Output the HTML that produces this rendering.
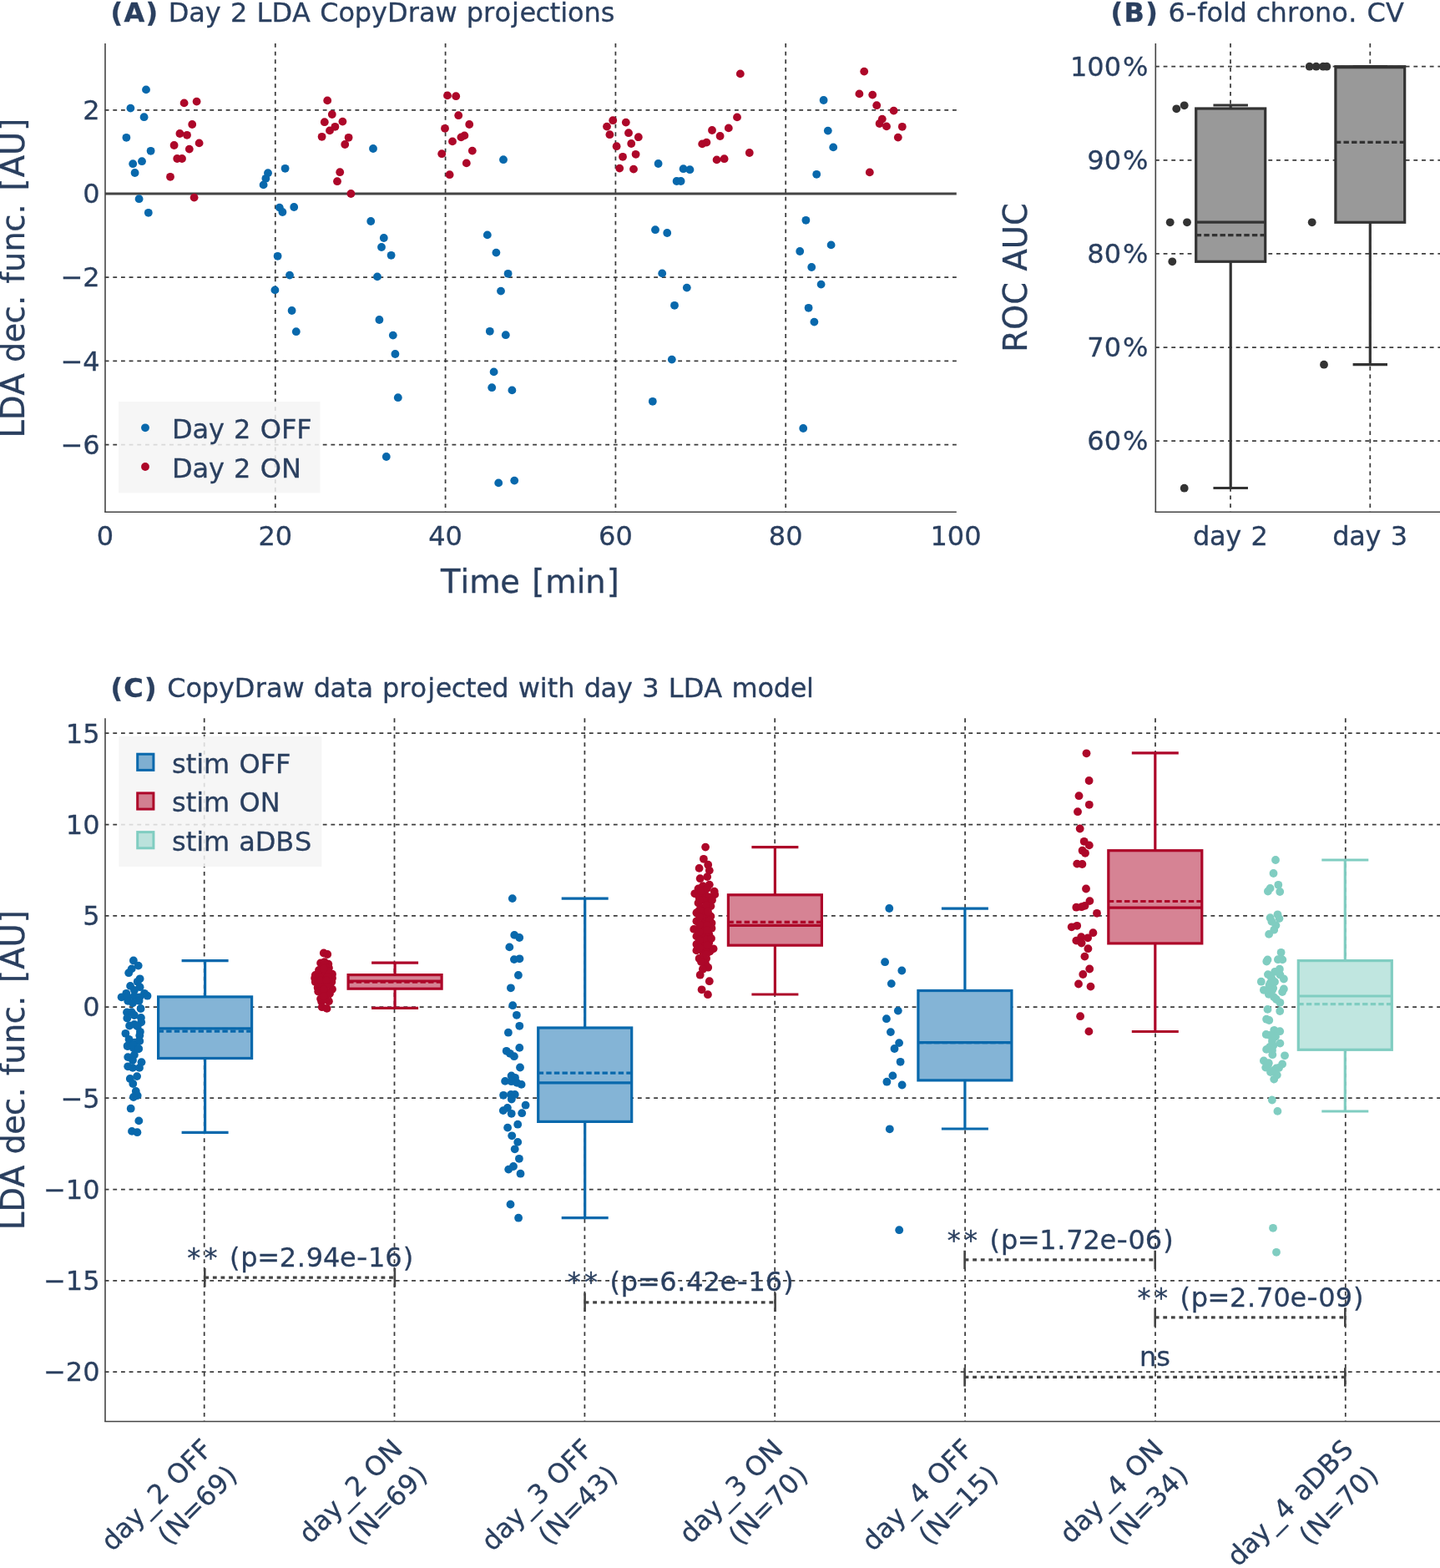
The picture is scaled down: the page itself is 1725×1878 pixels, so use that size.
<!DOCTYPE html>
<html lang="en"><head><meta charset="utf-8"><title>LDA CopyDraw figure</title>
<style>
html,body{margin:0;padding:0;background:#fff}
svg{display:block}
text{font-family:"DejaVu Sans", "Liberation Sans", sans-serif;fill:#2a3f5f;stroke:#2a3f5f;stroke-width:0.3px}
.g{stroke:#3c3c3c;stroke-width:1.75;stroke-dasharray:4.835,4.835;fill:none}
.ax{stroke:#444;stroke-width:1.6;fill:none}
</style></head>
<body>
<svg width="1725" height="1878" viewBox="0 0 1725 1878">
<rect width="100%" height="100%" fill="#fff"/>
<path class="g" d="M329.8,52V613.3"/>
<path class="g" d="M533.6,52V613.3"/>
<path class="g" d="M737.4,52V613.3"/>
<path class="g" d="M941.2,52V613.3"/>
<path class="g" d="M125.65,131.8H1145.8"/>
<path class="g" d="M125.65,332.2H1145.8"/>
<path class="g" d="M125.65,432.4H1145.8"/>
<path class="g" d="M125.65,532.6H1145.8"/>
<path d="M126,232.0H1145.8" stroke="#444" stroke-width="3.2" fill="none"/>
<circle cx="175" cy="107.4" r="4.9" fill="#0868ac"/>
<circle cx="156.4" cy="129.6" r="4.9" fill="#0868ac"/>
<circle cx="172.6" cy="140.2" r="4.9" fill="#0868ac"/>
<circle cx="151.4" cy="164.8" r="4.9" fill="#0868ac"/>
<circle cx="180.6" cy="180.8" r="4.9" fill="#0868ac"/>
<circle cx="170" cy="193.2" r="4.9" fill="#0868ac"/>
<circle cx="159.2" cy="196.2" r="4.9" fill="#0868ac"/>
<circle cx="161.6" cy="207" r="4.9" fill="#0868ac"/>
<circle cx="166.6" cy="238.2" r="4.9" fill="#0868ac"/>
<circle cx="177.8" cy="254.8" r="4.9" fill="#0868ac"/>
<circle cx="321" cy="207.2" r="4.9" fill="#0868ac"/>
<circle cx="318.4" cy="213.8" r="4.9" fill="#0868ac"/>
<circle cx="315.6" cy="221.4" r="4.9" fill="#0868ac"/>
<circle cx="341.6" cy="201.8" r="4.9" fill="#0868ac"/>
<circle cx="334.8" cy="248.6" r="4.9" fill="#0868ac"/>
<circle cx="338.4" cy="254" r="4.9" fill="#0868ac"/>
<circle cx="352.2" cy="248" r="4.9" fill="#0868ac"/>
<circle cx="332.6" cy="306.8" r="4.9" fill="#0868ac"/>
<circle cx="347" cy="329.6" r="4.9" fill="#0868ac"/>
<circle cx="329.4" cy="347.4" r="4.9" fill="#0868ac"/>
<circle cx="349.6" cy="372" r="4.9" fill="#0868ac"/>
<circle cx="354.8" cy="397.2" r="4.9" fill="#0868ac"/>
<circle cx="447" cy="178" r="4.9" fill="#0868ac"/>
<circle cx="444.2" cy="265" r="4.9" fill="#0868ac"/>
<circle cx="459.8" cy="285" r="4.9" fill="#0868ac"/>
<circle cx="457" cy="296" r="4.9" fill="#0868ac"/>
<circle cx="468.6" cy="305.8" r="4.9" fill="#0868ac"/>
<circle cx="452" cy="331.4" r="4.9" fill="#0868ac"/>
<circle cx="454.4" cy="383" r="4.9" fill="#0868ac"/>
<circle cx="470.8" cy="401.6" r="4.9" fill="#0868ac"/>
<circle cx="473.4" cy="424" r="4.9" fill="#0868ac"/>
<circle cx="476.8" cy="476.2" r="4.9" fill="#0868ac"/>
<circle cx="462.8" cy="547" r="4.9" fill="#0868ac"/>
<circle cx="603" cy="191.2" r="4.9" fill="#0868ac"/>
<circle cx="583.8" cy="281.4" r="4.9" fill="#0868ac"/>
<circle cx="594.4" cy="302.6" r="4.9" fill="#0868ac"/>
<circle cx="608.6" cy="327.8" r="4.9" fill="#0868ac"/>
<circle cx="600" cy="348.6" r="4.9" fill="#0868ac"/>
<circle cx="586.8" cy="396.8" r="4.9" fill="#0868ac"/>
<circle cx="605.8" cy="401.2" r="4.9" fill="#0868ac"/>
<circle cx="591.6" cy="445.4" r="4.9" fill="#0868ac"/>
<circle cx="589.2" cy="464.2" r="4.9" fill="#0868ac"/>
<circle cx="613.4" cy="467.4" r="4.9" fill="#0868ac"/>
<circle cx="597.2" cy="578.4" r="4.9" fill="#0868ac"/>
<circle cx="616.2" cy="575.6" r="4.9" fill="#0868ac"/>
<circle cx="788.6" cy="196" r="4.9" fill="#0868ac"/>
<circle cx="785" cy="275.2" r="4.9" fill="#0868ac"/>
<circle cx="799.2" cy="279" r="4.9" fill="#0868ac"/>
<circle cx="793.2" cy="327.4" r="4.9" fill="#0868ac"/>
<circle cx="822.8" cy="344.6" r="4.9" fill="#0868ac"/>
<circle cx="808" cy="365.8" r="4.9" fill="#0868ac"/>
<circle cx="804.8" cy="430.6" r="4.9" fill="#0868ac"/>
<circle cx="781.8" cy="480.8" r="4.9" fill="#0868ac"/>
<circle cx="818.6" cy="202.2" r="4.9" fill="#0868ac"/>
<circle cx="826.4" cy="203.2" r="4.9" fill="#0868ac"/>
<circle cx="810.6" cy="217" r="4.9" fill="#0868ac"/>
<circle cx="815.6" cy="217" r="4.9" fill="#0868ac"/>
<circle cx="986.6" cy="120" r="4.9" fill="#0868ac"/>
<circle cx="991.8" cy="156.6" r="4.9" fill="#0868ac"/>
<circle cx="998.2" cy="176.4" r="4.9" fill="#0868ac"/>
<circle cx="978.2" cy="208.8" r="4.9" fill="#0868ac"/>
<circle cx="965.4" cy="263.8" r="4.9" fill="#0868ac"/>
<circle cx="995.6" cy="293.4" r="4.9" fill="#0868ac"/>
<circle cx="958.2" cy="301" r="4.9" fill="#0868ac"/>
<circle cx="972.2" cy="320" r="4.9" fill="#0868ac"/>
<circle cx="983.6" cy="340.6" r="4.9" fill="#0868ac"/>
<circle cx="968.6" cy="368.8" r="4.9" fill="#0868ac"/>
<circle cx="975.4" cy="385.6" r="4.9" fill="#0868ac"/>
<circle cx="962.2" cy="513" r="4.9" fill="#0868ac"/>
<circle cx="220.6" cy="123.4" r="4.9" fill="#ad0729"/>
<circle cx="235.6" cy="121.6" r="4.9" fill="#ad0729"/>
<circle cx="230.2" cy="149" r="4.9" fill="#ad0729"/>
<circle cx="215.4" cy="160" r="4.9" fill="#ad0729"/>
<circle cx="224" cy="161.8" r="4.9" fill="#ad0729"/>
<circle cx="238.6" cy="171.4" r="4.9" fill="#ad0729"/>
<circle cx="208.6" cy="174" r="4.9" fill="#ad0729"/>
<circle cx="226.8" cy="178.6" r="4.9" fill="#ad0729"/>
<circle cx="212.2" cy="190" r="4.9" fill="#ad0729"/>
<circle cx="218" cy="190" r="4.9" fill="#ad0729"/>
<circle cx="204" cy="211.8" r="4.9" fill="#ad0729"/>
<circle cx="232.6" cy="236.6" r="4.9" fill="#ad0729"/>
<circle cx="392.2" cy="120.4" r="4.9" fill="#ad0729"/>
<circle cx="397.8" cy="137" r="4.9" fill="#ad0729"/>
<circle cx="388.8" cy="146.2" r="4.9" fill="#ad0729"/>
<circle cx="410.4" cy="145.6" r="4.9" fill="#ad0729"/>
<circle cx="401.4" cy="151.8" r="4.9" fill="#ad0729"/>
<circle cx="395" cy="156.4" r="4.9" fill="#ad0729"/>
<circle cx="385.6" cy="163.8" r="4.9" fill="#ad0729"/>
<circle cx="417.6" cy="164.8" r="4.9" fill="#ad0729"/>
<circle cx="413.2" cy="173" r="4.9" fill="#ad0729"/>
<circle cx="407.2" cy="206.2" r="4.9" fill="#ad0729"/>
<circle cx="404" cy="217.2" r="4.9" fill="#ad0729"/>
<circle cx="420.4" cy="232" r="4.9" fill="#ad0729"/>
<circle cx="536" cy="114.4" r="4.9" fill="#ad0729"/>
<circle cx="546.2" cy="115.2" r="4.9" fill="#ad0729"/>
<circle cx="549.2" cy="138.2" r="4.9" fill="#ad0729"/>
<circle cx="562.2" cy="149" r="4.9" fill="#ad0729"/>
<circle cx="533" cy="153.8" r="4.9" fill="#ad0729"/>
<circle cx="556.4" cy="162.4" r="4.9" fill="#ad0729"/>
<circle cx="552.4" cy="164.4" r="4.9" fill="#ad0729"/>
<circle cx="542" cy="169.4" r="4.9" fill="#ad0729"/>
<circle cx="565.8" cy="180.6" r="4.9" fill="#ad0729"/>
<circle cx="529.2" cy="184.2" r="4.9" fill="#ad0729"/>
<circle cx="558.8" cy="195.4" r="4.9" fill="#ad0729"/>
<circle cx="538.6" cy="209.2" r="4.9" fill="#ad0729"/>
<circle cx="734.2" cy="144.2" r="4.9" fill="#ad0729"/>
<circle cx="727" cy="151.6" r="4.9" fill="#ad0729"/>
<circle cx="749.8" cy="146.6" r="4.9" fill="#ad0729"/>
<circle cx="730.4" cy="161.2" r="4.9" fill="#ad0729"/>
<circle cx="753" cy="159.2" r="4.9" fill="#ad0729"/>
<circle cx="764.8" cy="164.2" r="4.9" fill="#ad0729"/>
<circle cx="756.2" cy="172" r="4.9" fill="#ad0729"/>
<circle cx="738.6" cy="175.2" r="4.9" fill="#ad0729"/>
<circle cx="761.6" cy="184.8" r="4.9" fill="#ad0729"/>
<circle cx="746" cy="187.8" r="4.9" fill="#ad0729"/>
<circle cx="742.2" cy="201.6" r="4.9" fill="#ad0729"/>
<circle cx="759" cy="202.6" r="4.9" fill="#ad0729"/>
<circle cx="886.8" cy="88.4" r="4.9" fill="#ad0729"/>
<circle cx="883" cy="140.4" r="4.9" fill="#ad0729"/>
<circle cx="872.8" cy="153.4" r="4.9" fill="#ad0729"/>
<circle cx="853" cy="156" r="4.9" fill="#ad0729"/>
<circle cx="862.6" cy="163" r="4.9" fill="#ad0729"/>
<circle cx="846.4" cy="170.6" r="4.9" fill="#ad0729"/>
<circle cx="841.2" cy="172.4" r="4.9" fill="#ad0729"/>
<circle cx="897.8" cy="183" r="4.9" fill="#ad0729"/>
<circle cx="867.6" cy="190.2" r="4.9" fill="#ad0729"/>
<circle cx="858.6" cy="191.4" r="4.9" fill="#ad0729"/>
<circle cx="1035.2" cy="85.6" r="4.9" fill="#ad0729"/>
<circle cx="1029.4" cy="112.4" r="4.9" fill="#ad0729"/>
<circle cx="1045.2" cy="113.6" r="4.9" fill="#ad0729"/>
<circle cx="1050.2" cy="126.2" r="4.9" fill="#ad0729"/>
<circle cx="1070.6" cy="132.6" r="4.9" fill="#ad0729"/>
<circle cx="1056.8" cy="142.6" r="4.9" fill="#ad0729"/>
<circle cx="1053.6" cy="148" r="4.9" fill="#ad0729"/>
<circle cx="1062" cy="151.4" r="4.9" fill="#ad0729"/>
<circle cx="1080.8" cy="151.8" r="4.9" fill="#ad0729"/>
<circle cx="1075.8" cy="164.6" r="4.9" fill="#ad0729"/>
<circle cx="1041.8" cy="206.4" r="4.9" fill="#ad0729"/>
<path class="ax" d="M126,52V613.3"/>
<path class="ax" d="M125.2,613.3H1145.8"/>
<text y="143.0" font-size="32"><tspan x="99.15">2</tspan></text>
<text y="243.2" font-size="32"><tspan x="99.15">0</tspan></text>
<text y="343.4" font-size="32"><tspan x="72.65 99.15">−2</tspan></text>
<text y="443.6" font-size="32"><tspan x="72.65 99.15">−4</tspan></text>
<text y="543.8" font-size="32"><tspan x="72.65 99.15">−6</tspan></text>
<text y="653.4" font-size="32"><tspan x="115.82">0</tspan></text>
<text y="653.4" font-size="32"><tspan x="309.45 329.80">20</tspan></text>
<text y="653.4" font-size="32"><tspan x="513.25 533.60">40</tspan></text>
<text y="653.4" font-size="32"><tspan x="717.05 737.40">60</tspan></text>
<text y="653.4" font-size="32"><tspan x="920.85 941.20">80</tspan></text>
<text y="653.4" font-size="32"><tspan x="1114.47 1134.82 1155.18">100</tspan></text>
<text y="709.6" font-size="38.4"><tspan x="528.10 551.58 562.16 599.17 623.08 637.17 653.36 690.66 701.24 726.80">Time [min]</tspan></text>
<text transform="translate(29,332.5) rotate(-90)" y="0" font-size="38.4"><tspan x="-191.98 -170.57 -140.99 -114.07 -101.43 -77.64 -54.95 -33.50 -19.76 -6.89 6.60 30.91 54.68 76.13 89.88 103.97 120.17 146.44 175.78">LDA dec. func. [AU]</tspan></text>
<text y="25.8" font-size="32"><tspan font-weight="bold" x="132.38 148.41 174.58">(A)</tspan><tspan x="191.13 201.86 226.33 245.75 265.24 275.96 296.86 307.58 325.42 350.07 372.50 383.22 405.48 424.79 444.92 463.88 488.79 502.01 521.43 548.15 558.68 579.06 592.39 612.95 622.60 641.51 658.68 671.19 679.94 699.43 719.70"> Day 2 LDA CopyDraw projections</tspan></text>
<rect x="142" y="481" width="241.5" height="109.3" fill="#f4f4f4" fill-opacity="0.85"/>
<circle cx="174" cy="512.3" r="4.9" fill="#0868ac"/><circle cx="174" cy="559" r="4.9" fill="#ad0729"/>
<text y="525" font-size="32"><tspan x="206.02 230.48 249.90 269.39 280.11 301.01 311.73 336.91 355.31">Day 2 OFF</tspan></text>
<text y="571.8" font-size="32"><tspan x="206.02 230.48 249.90 269.39 280.11 301.01 311.73 336.91">Day 2 ON</tspan></text>
<path class="g" d="M1474,52V613.3"/>
<path class="g" d="M1641.3,52V613.3"/>
<path class="g" d="M1383.95,79.7H1725"/>
<path class="g" d="M1383.95,191.8H1725"/>
<path class="g" d="M1383.95,303.9H1725"/>
<path class="g" d="M1383.95,416.0H1725"/>
<path class="g" d="M1383.95,528.1H1725"/>
<g stroke="#333" stroke-width="3.2" fill="none">
<path d="M1474.2,130V126M1474.2,313.3V584.5M1453.45,126H1494.95M1453.45,584.5H1494.95"/>
<rect x="1432.7" y="130" width="83.0" height="183.3" fill="#999999"/>
<path d="M1432.7,266.2H1515.7"/>
<path d="M1432.7,281.7H1515.7" stroke-dasharray="6.4,3.2"/>
</g>
<g stroke="#333" stroke-width="3.2" fill="none">
<path d="M1641.3,79.7V79.7M1641.3,266.3V436.7M1620.6,79.7H1662.0M1620.6,436.7H1662.0"/>
<rect x="1599.8999999999999" y="79.7" width="82.8" height="186.60000000000002" fill="#999999"/>
<path d="M1599.8999999999999,80.7H1682.7"/>
<path d="M1599.8999999999999,170.3H1682.7" stroke-dasharray="6.4,3.2"/>
</g>
<circle cx="1409.3" cy="130.3" r="4.9" fill="#333"/>
<circle cx="1418.7" cy="126.3" r="4.9" fill="#333"/>
<circle cx="1401.7" cy="266.3" r="4.9" fill="#333"/>
<circle cx="1422" cy="266.3" r="4.9" fill="#333"/>
<circle cx="1404.3" cy="313.3" r="4.9" fill="#333"/>
<circle cx="1418.7" cy="584.7" r="4.9" fill="#333"/>
<circle cx="1568.7" cy="79.7" r="4.9" fill="#333"/>
<circle cx="1576.7" cy="79.7" r="4.9" fill="#333"/>
<circle cx="1585" cy="79.7" r="4.9" fill="#333"/>
<circle cx="1589.3" cy="79.7" r="4.9" fill="#333"/>
<circle cx="1571.7" cy="266.3" r="4.9" fill="#333"/>
<circle cx="1586" cy="436.7" r="4.9" fill="#333"/>
<path class="ax" d="M1384.3,52V613.3"/>
<path class="ax" d="M1383.5,613.3H1725"/>
<text y="90.9" font-size="32"><tspan x="1282.01 1302.36 1322.72 1345.08">100%</tspan></text>
<text y="203.0" font-size="32"><tspan x="1302.36 1322.72 1345.08">90%</tspan></text>
<text y="315.1" font-size="32"><tspan x="1302.36 1322.72 1345.08">80%</tspan></text>
<text y="427.2" font-size="32"><tspan x="1302.36 1322.72 1345.08">70%</tspan></text>
<text y="539.3" font-size="32"><tspan x="1302.36 1322.72 1345.08">60%</tspan></text>
<text y="653.4" font-size="32"><tspan x="1428.94 1448.88 1468.30 1487.79 1498.51">day 2</tspan></text>
<text y="653.4" font-size="32"><tspan x="1596.24 1616.18 1635.60 1655.09 1665.81">day 3</tspan></text>
<text transform="translate(1230,332.5) rotate(-90)" y="0" font-size="38.4"><tspan x="-89.20 -62.52 -32.29 -4.84 8.03 34.29 62.40">ROC AUC</tspan></text>
<text y="25.8" font-size="32"><tspan font-weight="bold" x="1330.38 1346.38 1372.14">(B)</tspan><tspan x="1388.68 1399.40"> 6</tspan><tspan x="1420.33" textLength="13.37" lengthAdjust="spacingAndGlyphs">-</tspan><tspan x="1434.28 1445.46 1464.90 1473.54 1494.22 1504.47 1521.59 1542.12 1555.45 1574.94 1595.13 1615.37 1626.82 1637.54 1659.88">fold chrono. CV</tspan></text>
<path class="g" d="M244.7,860.3V1702.5"/>
<path class="g" d="M472.5,860.3V1702.5"/>
<path class="g" d="M700.4,860.3V1702.5"/>
<path class="g" d="M928.2,860.3V1702.5"/>
<path class="g" d="M1156.1,860.3V1702.5"/>
<path class="g" d="M1384.0,860.3V1702.5"/>
<path class="g" d="M1611.8,860.3V1702.5"/>
<path class="g" d="M125.65,878.2H1725"/>
<path class="g" d="M125.65,987.5H1725"/>
<path class="g" d="M125.65,1096.8H1725"/>
<path class="g" d="M125.65,1206.0H1725"/>
<path class="g" d="M125.65,1315.2H1725"/>
<path class="g" d="M125.65,1424.5H1725"/>
<path class="g" d="M125.65,1533.8H1725"/>
<path class="g" d="M125.65,1643.0H1725"/>
<circle cx="159.9" cy="1150.5" r="4.9" fill="#0868ac"/>
<circle cx="165.7" cy="1156.6" r="4.9" fill="#0868ac"/>
<circle cx="157.7" cy="1160.4" r="4.9" fill="#0868ac"/>
<circle cx="154.2" cy="1165.2" r="4.9" fill="#0868ac"/>
<circle cx="167.6" cy="1172.3" r="4.9" fill="#0868ac"/>
<circle cx="164.7" cy="1175.8" r="4.9" fill="#0868ac"/>
<circle cx="156.1" cy="1180.9" r="4.9" fill="#0868ac"/>
<circle cx="167.6" cy="1182.2" r="4.9" fill="#0868ac"/>
<circle cx="160.9" cy="1186" r="4.9" fill="#0868ac"/>
<circle cx="151.3" cy="1189.8" r="4.9" fill="#0868ac"/>
<circle cx="173" cy="1189.8" r="4.9" fill="#0868ac"/>
<circle cx="145.6" cy="1194.3" r="4.9" fill="#0868ac"/>
<circle cx="176.5" cy="1192.7" r="4.9" fill="#0868ac"/>
<circle cx="153.2" cy="1194.3" r="4.9" fill="#0868ac"/>
<circle cx="160.9" cy="1193" r="4.9" fill="#0868ac"/>
<circle cx="167.3" cy="1194.3" r="4.9" fill="#0868ac"/>
<circle cx="153.2" cy="1198.8" r="4.9" fill="#0868ac"/>
<circle cx="159" cy="1201.3" r="4.9" fill="#0868ac"/>
<circle cx="166.6" cy="1198.8" r="4.9" fill="#0868ac"/>
<circle cx="168.6" cy="1208" r="4.9" fill="#0868ac"/>
<circle cx="152" cy="1212.5" r="4.9" fill="#0868ac"/>
<circle cx="157.7" cy="1212.2" r="4.9" fill="#0868ac"/>
<circle cx="160.9" cy="1216" r="4.9" fill="#0868ac"/>
<circle cx="152.3" cy="1219.5" r="4.9" fill="#0868ac"/>
<circle cx="168.9" cy="1218.9" r="4.9" fill="#0868ac"/>
<circle cx="169.2" cy="1224.3" r="4.9" fill="#0868ac"/>
<circle cx="155.1" cy="1228.5" r="4.9" fill="#0868ac"/>
<circle cx="160.9" cy="1226.9" r="4.9" fill="#0868ac"/>
<circle cx="164.7" cy="1229.4" r="4.9" fill="#0868ac"/>
<circle cx="150.4" cy="1237.8" r="4.9" fill="#0868ac"/>
<circle cx="167.9" cy="1235.8" r="4.9" fill="#0868ac"/>
<circle cx="167.3" cy="1240.3" r="4.9" fill="#0868ac"/>
<circle cx="154.5" cy="1244.8" r="4.9" fill="#0868ac"/>
<circle cx="166.6" cy="1246.7" r="4.9" fill="#0868ac"/>
<circle cx="160.9" cy="1248.6" r="4.9" fill="#0868ac"/>
<circle cx="152.9" cy="1253.1" r="4.9" fill="#0868ac"/>
<circle cx="159.6" cy="1255" r="4.9" fill="#0868ac"/>
<circle cx="166" cy="1256.3" r="4.9" fill="#0868ac"/>
<circle cx="167.3" cy="1246.9" r="4.9" fill="#0868ac"/>
<circle cx="152.6" cy="1252.7" r="4.9" fill="#0868ac"/>
<circle cx="159.6" cy="1251.4" r="4.9" fill="#0868ac"/>
<circle cx="166" cy="1255.9" r="4.9" fill="#0868ac"/>
<circle cx="160.9" cy="1263.5" r="4.9" fill="#0868ac"/>
<circle cx="153.2" cy="1266.1" r="4.9" fill="#0868ac"/>
<circle cx="159" cy="1269.9" r="4.9" fill="#0868ac"/>
<circle cx="169.5" cy="1272.2" r="4.9" fill="#0868ac"/>
<circle cx="153.2" cy="1277.3" r="4.9" fill="#0868ac"/>
<circle cx="159" cy="1278.9" r="4.9" fill="#0868ac"/>
<circle cx="167" cy="1278.9" r="4.9" fill="#0868ac"/>
<circle cx="164.1" cy="1289.1" r="4.9" fill="#0868ac"/>
<circle cx="155.8" cy="1292" r="4.9" fill="#0868ac"/>
<circle cx="159.3" cy="1298" r="4.9" fill="#0868ac"/>
<circle cx="162.8" cy="1307" r="4.9" fill="#0868ac"/>
<circle cx="164.7" cy="1312.1" r="4.9" fill="#0868ac"/>
<circle cx="159.9" cy="1314" r="4.9" fill="#0868ac"/>
<circle cx="156.7" cy="1327.7" r="4.9" fill="#0868ac"/>
<circle cx="166.3" cy="1342.4" r="4.9" fill="#0868ac"/>
<circle cx="158" cy="1354.9" r="4.9" fill="#0868ac"/>
<circle cx="164.4" cy="1356.2" r="4.9" fill="#0868ac"/>
<circle cx="613.8" cy="1076.1" r="4.9" fill="#0868ac"/>
<circle cx="616.2" cy="1119.9" r="4.9" fill="#0868ac"/>
<circle cx="622.2" cy="1123" r="4.9" fill="#0868ac"/>
<circle cx="610.3" cy="1134.4" r="4.9" fill="#0868ac"/>
<circle cx="615.9" cy="1149.1" r="4.9" fill="#0868ac"/>
<circle cx="622.4" cy="1148.3" r="4.9" fill="#0868ac"/>
<circle cx="620.9" cy="1168" r="4.9" fill="#0868ac"/>
<circle cx="611.9" cy="1183.3" r="4.9" fill="#0868ac"/>
<circle cx="614.2" cy="1204.2" r="4.9" fill="#0868ac"/>
<circle cx="618.9" cy="1215.8" r="4.9" fill="#0868ac"/>
<circle cx="622.3" cy="1228.8" r="4.9" fill="#0868ac"/>
<circle cx="608.9" cy="1236.7" r="4.9" fill="#0868ac"/>
<circle cx="622.3" cy="1254.9" r="4.9" fill="#0868ac"/>
<circle cx="606.7" cy="1258.8" r="4.9" fill="#0868ac"/>
<circle cx="610.9" cy="1261.8" r="4.9" fill="#0868ac"/>
<circle cx="615.9" cy="1265.2" r="4.9" fill="#0868ac"/>
<circle cx="623" cy="1278.5" r="4.9" fill="#0868ac"/>
<circle cx="612.6" cy="1288.5" r="4.9" fill="#0868ac"/>
<circle cx="617" cy="1290.8" r="4.9" fill="#0868ac"/>
<circle cx="605.1" cy="1294.9" r="4.9" fill="#0868ac"/>
<circle cx="612.6" cy="1295.2" r="4.9" fill="#0868ac"/>
<circle cx="619.3" cy="1296.9" r="4.9" fill="#0868ac"/>
<circle cx="624.6" cy="1298.9" r="4.9" fill="#0868ac"/>
<circle cx="603.1" cy="1311.8" r="4.9" fill="#0868ac"/>
<circle cx="612" cy="1310.9" r="4.9" fill="#0868ac"/>
<circle cx="616.8" cy="1310.9" r="4.9" fill="#0868ac"/>
<circle cx="612.8" cy="1316.5" r="4.9" fill="#0868ac"/>
<circle cx="629.6" cy="1323.7" r="4.9" fill="#0868ac"/>
<circle cx="607.9" cy="1326.9" r="4.9" fill="#0868ac"/>
<circle cx="602.8" cy="1330.1" r="4.9" fill="#0868ac"/>
<circle cx="612.7" cy="1333.8" r="4.9" fill="#0868ac"/>
<circle cx="625.2" cy="1333.2" r="4.9" fill="#0868ac"/>
<circle cx="620.2" cy="1346.7" r="4.9" fill="#0868ac"/>
<circle cx="608.1" cy="1350.6" r="4.9" fill="#0868ac"/>
<circle cx="613.2" cy="1360.3" r="4.9" fill="#0868ac"/>
<circle cx="620.2" cy="1367.9" r="4.9" fill="#0868ac"/>
<circle cx="616.7" cy="1376.3" r="4.9" fill="#0868ac"/>
<circle cx="621.9" cy="1387.8" r="4.9" fill="#0868ac"/>
<circle cx="615" cy="1397" r="4.9" fill="#0868ac"/>
<circle cx="609.2" cy="1400.6" r="4.9" fill="#0868ac"/>
<circle cx="623.5" cy="1405.7" r="4.9" fill="#0868ac"/>
<circle cx="611.5" cy="1442.5" r="4.9" fill="#0868ac"/>
<circle cx="621.1" cy="1458.7" r="4.9" fill="#0868ac"/>
<circle cx="1065.3" cy="1088" r="4.9" fill="#0868ac"/>
<circle cx="1060.1" cy="1152.2" r="4.9" fill="#0868ac"/>
<circle cx="1080.3" cy="1162.5" r="4.9" fill="#0868ac"/>
<circle cx="1067.8" cy="1178.1" r="4.9" fill="#0868ac"/>
<circle cx="1075.8" cy="1210.6" r="4.9" fill="#0868ac"/>
<circle cx="1061.9" cy="1220.2" r="4.9" fill="#0868ac"/>
<circle cx="1066.9" cy="1236.1" r="4.9" fill="#0868ac"/>
<circle cx="1077.1" cy="1249.1" r="4.9" fill="#0868ac"/>
<circle cx="1071.5" cy="1256" r="4.9" fill="#0868ac"/>
<circle cx="1078.6" cy="1271.8" r="4.9" fill="#0868ac"/>
<circle cx="1069.4" cy="1288.4" r="4.9" fill="#0868ac"/>
<circle cx="1062.4" cy="1295.7" r="4.9" fill="#0868ac"/>
<circle cx="1080.6" cy="1299.5" r="4.9" fill="#0868ac"/>
<circle cx="1065.8" cy="1352.3" r="4.9" fill="#0868ac"/>
<circle cx="1077.2" cy="1473.2" r="4.9" fill="#0868ac"/>
<circle cx="387.8" cy="1141.5" r="4.9" fill="#ad0729"/>
<circle cx="392.2" cy="1143" r="4.9" fill="#ad0729"/>
<circle cx="384.1" cy="1153.4" r="4.9" fill="#ad0729"/>
<circle cx="393.3" cy="1154.6" r="4.9" fill="#ad0729"/>
<circle cx="388.7" cy="1152.2" r="4.9" fill="#ad0729"/>
<circle cx="386.4" cy="1158.6" r="4.9" fill="#ad0729"/>
<circle cx="393.9" cy="1159.2" r="4.9" fill="#ad0729"/>
<circle cx="377.7" cy="1167.9" r="4.9" fill="#ad0729"/>
<circle cx="398" cy="1166.7" r="4.9" fill="#ad0729"/>
<circle cx="387.5" cy="1165.6" r="4.9" fill="#ad0729"/>
<circle cx="377.1" cy="1171.4" r="4.9" fill="#ad0729"/>
<circle cx="398" cy="1171.4" r="4.9" fill="#ad0729"/>
<circle cx="377.7" cy="1176" r="4.9" fill="#ad0729"/>
<circle cx="397.4" cy="1176" r="4.9" fill="#ad0729"/>
<circle cx="387.5" cy="1174.3" r="4.9" fill="#ad0729"/>
<circle cx="380.6" cy="1183" r="4.9" fill="#ad0729"/>
<circle cx="398" cy="1184.7" r="4.9" fill="#ad0729"/>
<circle cx="389.3" cy="1181.8" r="4.9" fill="#ad0729"/>
<circle cx="381.2" cy="1187.6" r="4.9" fill="#ad0729"/>
<circle cx="392.2" cy="1188.8" r="4.9" fill="#ad0729"/>
<circle cx="384.1" cy="1196.3" r="4.9" fill="#ad0729"/>
<circle cx="392.2" cy="1194.6" r="4.9" fill="#ad0729"/>
<circle cx="393.9" cy="1199.2" r="4.9" fill="#ad0729"/>
<circle cx="385.2" cy="1199.8" r="4.9" fill="#ad0729"/>
<circle cx="385.8" cy="1206.2" r="4.9" fill="#ad0729"/>
<circle cx="391.6" cy="1207.9" r="4.9" fill="#ad0729"/>
<circle cx="382" cy="1162" r="4.9" fill="#ad0729"/>
<circle cx="393" cy="1163" r="4.9" fill="#ad0729"/>
<circle cx="382.5" cy="1170" r="4.9" fill="#ad0729"/>
<circle cx="392.5" cy="1170" r="4.9" fill="#ad0729"/>
<circle cx="383" cy="1178" r="4.9" fill="#ad0729"/>
<circle cx="393" cy="1179" r="4.9" fill="#ad0729"/>
<circle cx="386" cy="1189" r="4.9" fill="#ad0729"/>
<circle cx="395" cy="1190" r="4.9" fill="#ad0729"/>
<circle cx="388" cy="1160" r="4.9" fill="#ad0729"/>
<circle cx="388" cy="1185" r="4.9" fill="#ad0729"/>
<circle cx="388" cy="1193" r="4.9" fill="#ad0729"/>
<circle cx="384" cy="1174" r="4.9" fill="#ad0729"/>
<circle cx="391" cy="1174" r="4.9" fill="#ad0729"/>
<circle cx="845.1" cy="1014.6" r="4.9" fill="#ad0729"/>
<circle cx="842.9" cy="1028.8" r="4.9" fill="#ad0729"/>
<circle cx="848.2" cy="1035.7" r="4.9" fill="#ad0729"/>
<circle cx="837.6" cy="1039.9" r="4.9" fill="#ad0729"/>
<circle cx="849.8" cy="1042.6" r="4.9" fill="#ad0729"/>
<circle cx="847.2" cy="1050.1" r="4.9" fill="#ad0729"/>
<circle cx="838.7" cy="1052.2" r="4.9" fill="#ad0729"/>
<circle cx="849.8" cy="1059.6" r="4.9" fill="#ad0729"/>
<circle cx="841.9" cy="1061.2" r="4.9" fill="#ad0729"/>
<circle cx="836.5" cy="1064.4" r="4.9" fill="#ad0729"/>
<circle cx="855.7" cy="1067.6" r="4.9" fill="#ad0729"/>
<circle cx="832.3" cy="1070.3" r="4.9" fill="#ad0729"/>
<circle cx="844" cy="1070.3" r="4.9" fill="#ad0729"/>
<circle cx="856.2" cy="1071.4" r="4.9" fill="#ad0729"/>
<circle cx="849.3" cy="1074.5" r="4.9" fill="#ad0729"/>
<circle cx="837.6" cy="1074.5" r="4.9" fill="#ad0729"/>
<circle cx="836.5" cy="1081.5" r="4.9" fill="#ad0729"/>
<circle cx="848.2" cy="1080.9" r="4.9" fill="#ad0729"/>
<circle cx="851.4" cy="1085.2" r="4.9" fill="#ad0729"/>
<circle cx="841.9" cy="1087.3" r="4.9" fill="#ad0729"/>
<circle cx="834.4" cy="1093.2" r="4.9" fill="#ad0729"/>
<circle cx="841.9" cy="1094.8" r="4.9" fill="#ad0729"/>
<circle cx="851.4" cy="1097.4" r="4.9" fill="#ad0729"/>
<circle cx="834.4" cy="1103.3" r="4.9" fill="#ad0729"/>
<circle cx="844" cy="1103.3" r="4.9" fill="#ad0729"/>
<circle cx="852.5" cy="1105.4" r="4.9" fill="#ad0729"/>
<circle cx="831.2" cy="1112.9" r="4.9" fill="#ad0729"/>
<circle cx="839.7" cy="1110.8" r="4.9" fill="#ad0729"/>
<circle cx="852.5" cy="1111.8" r="4.9" fill="#ad0729"/>
<circle cx="849.3" cy="1119.3" r="4.9" fill="#ad0729"/>
<circle cx="834.4" cy="1121.4" r="4.9" fill="#ad0729"/>
<circle cx="841.9" cy="1122.5" r="4.9" fill="#ad0729"/>
<circle cx="849.3" cy="1128.9" r="4.9" fill="#ad0729"/>
<circle cx="834.4" cy="1131" r="4.9" fill="#ad0729"/>
<circle cx="841.9" cy="1131" r="4.9" fill="#ad0729"/>
<circle cx="854.6" cy="1136.3" r="4.9" fill="#ad0729"/>
<circle cx="834.4" cy="1138.4" r="4.9" fill="#ad0729"/>
<circle cx="841.9" cy="1139.5" r="4.9" fill="#ad0729"/>
<circle cx="850.4" cy="1139.5" r="4.9" fill="#ad0729"/>
<circle cx="837.6" cy="1148" r="4.9" fill="#ad0729"/>
<circle cx="846.1" cy="1148" r="4.9" fill="#ad0729"/>
<circle cx="845.1" cy="1154.4" r="4.9" fill="#ad0729"/>
<circle cx="848.2" cy="1158.7" r="4.9" fill="#ad0729"/>
<circle cx="841.9" cy="1160.8" r="4.9" fill="#ad0729"/>
<circle cx="838.7" cy="1167.7" r="4.9" fill="#ad0729"/>
<circle cx="849.8" cy="1175.2" r="4.9" fill="#ad0729"/>
<circle cx="840.6" cy="1185.3" r="4.9" fill="#ad0729"/>
<circle cx="847.9" cy="1191.2" r="4.9" fill="#ad0729"/>
<circle cx="843" cy="1078" r="4.9" fill="#ad0729"/>
<circle cx="845" cy="1090" r="4.9" fill="#ad0729"/>
<circle cx="846" cy="1098" r="4.9" fill="#ad0729"/>
<circle cx="843" cy="1115" r="4.9" fill="#ad0729"/>
<circle cx="846" cy="1125" r="4.9" fill="#ad0729"/>
<circle cx="846" cy="1135" r="4.9" fill="#ad0729"/>
<circle cx="843" cy="1143" r="4.9" fill="#ad0729"/>
<circle cx="840" cy="1067" r="4.9" fill="#ad0729"/>
<circle cx="847" cy="1064" r="4.9" fill="#ad0729"/>
<circle cx="838" cy="1078" r="4.9" fill="#ad0729"/>
<circle cx="853" cy="1078" r="4.9" fill="#ad0729"/>
<circle cx="846" cy="1084" r="4.9" fill="#ad0729"/>
<circle cx="838" cy="1090" r="4.9" fill="#ad0729"/>
<circle cx="848" cy="1092" r="4.9" fill="#ad0729"/>
<circle cx="838" cy="1098" r="4.9" fill="#ad0729"/>
<circle cx="850" cy="1102" r="4.9" fill="#ad0729"/>
<circle cx="838" cy="1107" r="4.9" fill="#ad0729"/>
<circle cx="847" cy="1108" r="4.9" fill="#ad0729"/>
<circle cx="838" cy="1116" r="4.9" fill="#ad0729"/>
<circle cx="847" cy="1114" r="4.9" fill="#ad0729"/>
<circle cx="852" cy="1124" r="4.9" fill="#ad0729"/>
<circle cx="838" cy="1126" r="4.9" fill="#ad0729"/>
<circle cx="847" cy="1132" r="4.9" fill="#ad0729"/>
<circle cx="838" cy="1135" r="4.9" fill="#ad0729"/>
<circle cx="846" cy="1143" r="4.9" fill="#ad0729"/>
<circle cx="840" cy="1152" r="4.9" fill="#ad0729"/>
<circle cx="1301.5" cy="902.3" r="4.9" fill="#ad0729"/>
<circle cx="1304.6" cy="935" r="4.9" fill="#ad0729"/>
<circle cx="1292.5" cy="953.2" r="4.9" fill="#ad0729"/>
<circle cx="1304.8" cy="963.8" r="4.9" fill="#ad0729"/>
<circle cx="1291" cy="972.2" r="4.9" fill="#ad0729"/>
<circle cx="1293.7" cy="992.5" r="4.9" fill="#ad0729"/>
<circle cx="1298.7" cy="1007.8" r="4.9" fill="#ad0729"/>
<circle cx="1304.8" cy="1012.4" r="4.9" fill="#ad0729"/>
<circle cx="1296.6" cy="1018.7" r="4.9" fill="#ad0729"/>
<circle cx="1300" cy="1021.8" r="4.9" fill="#ad0729"/>
<circle cx="1290.2" cy="1034.6" r="4.9" fill="#ad0729"/>
<circle cx="1296.4" cy="1035" r="4.9" fill="#ad0729"/>
<circle cx="1301" cy="1064.5" r="4.9" fill="#ad0729"/>
<circle cx="1305.4" cy="1079.1" r="4.9" fill="#ad0729"/>
<circle cx="1289.3" cy="1086.7" r="4.9" fill="#ad0729"/>
<circle cx="1295.6" cy="1086.2" r="4.9" fill="#ad0729"/>
<circle cx="1299.6" cy="1084.8" r="4.9" fill="#ad0729"/>
<circle cx="1314" cy="1093.8" r="4.9" fill="#ad0729"/>
<circle cx="1283.7" cy="1110.3" r="4.9" fill="#ad0729"/>
<circle cx="1290.2" cy="1108.8" r="4.9" fill="#ad0729"/>
<circle cx="1309.4" cy="1117.2" r="4.9" fill="#ad0729"/>
<circle cx="1295.2" cy="1122.2" r="4.9" fill="#ad0729"/>
<circle cx="1303.1" cy="1123.3" r="4.9" fill="#ad0729"/>
<circle cx="1289.3" cy="1126.6" r="4.9" fill="#ad0729"/>
<circle cx="1295.6" cy="1129.5" r="4.9" fill="#ad0729"/>
<circle cx="1303.4" cy="1136.2" r="4.9" fill="#ad0729"/>
<circle cx="1299.4" cy="1145.6" r="4.9" fill="#ad0729"/>
<circle cx="1305.2" cy="1160.5" r="4.9" fill="#ad0729"/>
<circle cx="1297.3" cy="1167" r="4.9" fill="#ad0729"/>
<circle cx="1292" cy="1178.5" r="4.9" fill="#ad0729"/>
<circle cx="1306.5" cy="1181.6" r="4.9" fill="#ad0729"/>
<circle cx="1294.1" cy="1217.2" r="4.9" fill="#ad0729"/>
<circle cx="1304.4" cy="1235.4" r="4.9" fill="#ad0729"/>
<circle cx="1528" cy="1030" r="4.9" fill="#80cdc1"/>
<circle cx="1525.5" cy="1046" r="4.9" fill="#80cdc1"/>
<circle cx="1531.3" cy="1059.8" r="4.9" fill="#80cdc1"/>
<circle cx="1521.6" cy="1063.9" r="4.9" fill="#80cdc1"/>
<circle cx="1518.9" cy="1067.5" r="4.9" fill="#80cdc1"/>
<circle cx="1533.2" cy="1068" r="4.9" fill="#80cdc1"/>
<circle cx="1530.5" cy="1095.3" r="4.9" fill="#80cdc1"/>
<circle cx="1521.6" cy="1099.2" r="4.9" fill="#80cdc1"/>
<circle cx="1532.5" cy="1100.1" r="4.9" fill="#80cdc1"/>
<circle cx="1523.4" cy="1103.7" r="4.9" fill="#80cdc1"/>
<circle cx="1528.4" cy="1108.2" r="4.9" fill="#80cdc1"/>
<circle cx="1526.2" cy="1113.7" r="4.9" fill="#80cdc1"/>
<circle cx="1520.1" cy="1118.9" r="4.9" fill="#80cdc1"/>
<circle cx="1534.6" cy="1140.8" r="4.9" fill="#80cdc1"/>
<circle cx="1518.5" cy="1149.4" r="4.9" fill="#80cdc1"/>
<circle cx="1517.3" cy="1151.5" r="4.9" fill="#80cdc1"/>
<circle cx="1530.9" cy="1149.2" r="4.9" fill="#80cdc1"/>
<circle cx="1536.3" cy="1149.4" r="4.9" fill="#80cdc1"/>
<circle cx="1532.9" cy="1160.7" r="4.9" fill="#80cdc1"/>
<circle cx="1527.1" cy="1163.9" r="4.9" fill="#80cdc1"/>
<circle cx="1518.9" cy="1167.1" r="4.9" fill="#80cdc1"/>
<circle cx="1533.4" cy="1167.5" r="4.9" fill="#80cdc1"/>
<circle cx="1537.9" cy="1172.5" r="4.9" fill="#80cdc1"/>
<circle cx="1523.4" cy="1172" r="4.9" fill="#80cdc1"/>
<circle cx="1510.8" cy="1175.7" r="4.9" fill="#80cdc1"/>
<circle cx="1521.6" cy="1177.5" r="4.9" fill="#80cdc1"/>
<circle cx="1513.9" cy="1185.8" r="4.9" fill="#80cdc1"/>
<circle cx="1525.2" cy="1183.6" r="4.9" fill="#80cdc1"/>
<circle cx="1537.9" cy="1184.5" r="4.9" fill="#80cdc1"/>
<circle cx="1536.1" cy="1188.1" r="4.9" fill="#80cdc1"/>
<circle cx="1519.8" cy="1190.8" r="4.9" fill="#80cdc1"/>
<circle cx="1526.2" cy="1194.4" r="4.9" fill="#80cdc1"/>
<circle cx="1533.4" cy="1200.8" r="4.9" fill="#80cdc1"/>
<circle cx="1518.5" cy="1208.9" r="4.9" fill="#80cdc1"/>
<circle cx="1533.2" cy="1211" r="4.9" fill="#80cdc1"/>
<circle cx="1517.1" cy="1220.7" r="4.9" fill="#80cdc1"/>
<circle cx="1520.3" cy="1222" r="4.9" fill="#80cdc1"/>
<circle cx="1526.2" cy="1233.8" r="4.9" fill="#80cdc1"/>
<circle cx="1533.2" cy="1235.2" r="4.9" fill="#80cdc1"/>
<circle cx="1516.7" cy="1239" r="4.9" fill="#80cdc1"/>
<circle cx="1528" cy="1241.5" r="4.9" fill="#80cdc1"/>
<circle cx="1533.4" cy="1249.6" r="4.9" fill="#80cdc1"/>
<circle cx="1525.2" cy="1252.4" r="4.9" fill="#80cdc1"/>
<circle cx="1517.1" cy="1256.9" r="4.9" fill="#80cdc1"/>
<circle cx="1524.3" cy="1263.2" r="4.9" fill="#80cdc1"/>
<circle cx="1539" cy="1264.3" r="4.9" fill="#80cdc1"/>
<circle cx="1513.9" cy="1270.5" r="4.9" fill="#80cdc1"/>
<circle cx="1519.8" cy="1273.2" r="4.9" fill="#80cdc1"/>
<circle cx="1536.1" cy="1274.5" r="4.9" fill="#80cdc1"/>
<circle cx="1516.2" cy="1278.6" r="4.9" fill="#80cdc1"/>
<circle cx="1528.9" cy="1279.5" r="4.9" fill="#80cdc1"/>
<circle cx="1525.2" cy="1282.2" r="4.9" fill="#80cdc1"/>
<circle cx="1529.8" cy="1287.6" r="4.9" fill="#80cdc1"/>
<circle cx="1526.2" cy="1292.6" r="4.9" fill="#80cdc1"/>
<circle cx="1523.9" cy="1317.5" r="4.9" fill="#80cdc1"/>
<circle cx="1530.4" cy="1330.9" r="4.9" fill="#80cdc1"/>
<circle cx="1525" cy="1470.8" r="4.9" fill="#80cdc1"/>
<circle cx="1529" cy="1499.8" r="4.9" fill="#80cdc1"/>
<circle cx="1522" cy="1187" r="4.9" fill="#80cdc1"/>
<circle cx="1529" cy="1197" r="4.9" fill="#80cdc1"/>
<circle cx="1522" cy="1169" r="4.9" fill="#80cdc1"/>
<circle cx="1520.5" cy="1180" r="4.9" fill="#80cdc1"/>
<circle cx="1524" cy="1186" r="4.9" fill="#80cdc1"/>
<circle cx="1527" cy="1176" r="4.9" fill="#80cdc1"/>
<circle cx="1521" cy="1240" r="4.9" fill="#80cdc1"/>
<circle cx="1524" cy="1247" r="4.9" fill="#80cdc1"/>
<circle cx="1521" cy="1254" r="4.9" fill="#80cdc1"/>
<circle cx="1524" cy="1258" r="4.9" fill="#80cdc1"/>
<circle cx="1519" cy="1275" r="4.9" fill="#80cdc1"/>
<circle cx="1522" cy="1284" r="4.9" fill="#80cdc1"/>
<circle cx="1532" cy="1279" r="4.9" fill="#80cdc1"/>
<g stroke="#0868ac" stroke-width="3.2" fill="none">
<path d="M245.6,1193.9V1150.7M245.6,1267.5V1356.3M217.6,1150.7H273.6M217.6,1356.3H273.6"/>
<rect x="189.6" y="1193.9" width="112" height="73.59999999999991" fill="#84b4d6"/>
<path d="M189.6,1231.8H301.6"/>
<path d="M189.6,1235.1H301.6" stroke-dasharray="6.4,3.2"/>
</g>
<g stroke="#ad0729" stroke-width="3.2" fill="none">
<path d="M473.1,1167.6V1153.2M473.1,1184.2V1207.3M445.1,1153.2H501.1M445.1,1207.3H501.1"/>
<rect x="417.1" y="1167.6" width="112" height="16.600000000000136" fill="#d68394"/>
<path d="M417.1,1175H529.1"/>
<path d="M417.1,1176.1H529.1" stroke-dasharray="6.4,3.2"/>
</g>
<g stroke="#0868ac" stroke-width="3.2" fill="none">
<path d="M700.7,1231V1076.2M700.7,1343.4V1458.7M672.7,1076.2H728.7M672.7,1458.7H728.7"/>
<rect x="644.7" y="1231" width="112" height="112.40000000000009" fill="#84b4d6"/>
<path d="M644.7,1296.9H756.7"/>
<path d="M644.7,1285.2H756.7" stroke-dasharray="6.4,3.2"/>
</g>
<g stroke="#ad0729" stroke-width="3.2" fill="none">
<path d="M928.4,1071.8V1014.7M928.4,1132.2V1191M900.4,1014.7H956.4M900.4,1191H956.4"/>
<rect x="872.4" y="1071.8" width="112" height="60.40000000000009" fill="#d68394"/>
<path d="M872.4,1108.3H984.4"/>
<path d="M872.4,1104.4H984.4" stroke-dasharray="6.4,3.2"/>
</g>
<g stroke="#0868ac" stroke-width="3.2" fill="none">
<path d="M1155.9,1186.5V1088.1M1155.9,1293.9V1352M1127.9,1088.1H1183.9M1127.9,1352H1183.9"/>
<rect x="1099.9" y="1186.5" width="112" height="107.40000000000009" fill="#84b4d6"/>
<path d="M1099.9,1248.7H1211.9"/>
<path d="M1099.9,1248.7H1211.9" stroke-dasharray="6.4,3.2"/>
</g>
<g stroke="#ad0729" stroke-width="3.2" fill="none">
<path d="M1383.8,1018.7V901.9M1383.8,1129.9V1235.5M1355.8,901.9H1411.8M1355.8,1235.5H1411.8"/>
<rect x="1327.8" y="1018.7" width="112" height="111.20000000000005" fill="#d68394"/>
<path d="M1327.8,1087.2H1439.8"/>
<path d="M1327.8,1079.5H1439.8" stroke-dasharray="6.4,3.2"/>
</g>
<g stroke="#80cdc1" stroke-width="3.2" fill="none">
<path d="M1611.3,1150.6V1030M1611.3,1257.3V1331M1583.3,1030H1639.3M1583.3,1331H1639.3"/>
<rect x="1555.3" y="1150.6" width="112" height="106.70000000000005" fill="#c0e6e0"/>
<path d="M1555.3,1193H1667.3"/>
<path d="M1555.3,1202.6H1667.3" stroke-dasharray="6.4,3.2"/>
</g>
<path class="ax" d="M126,860.3V1702.5"/>
<path class="ax" d="M125.2,1702.5H1725"/>
<text y="889.5" font-size="32"><tspan x="78.80 99.15">15</tspan></text>
<text y="998.7" font-size="32"><tspan x="78.80 99.15">10</tspan></text>
<text y="1108.0" font-size="32"><tspan x="99.15">5</tspan></text>
<text y="1217.2" font-size="32"><tspan x="99.15">0</tspan></text>
<text y="1326.5" font-size="32"><tspan x="72.65 99.15">−5</tspan></text>
<text y="1435.7" font-size="32"><tspan x="52.30 78.80 99.15">−10</tspan></text>
<text y="1545.0" font-size="32"><tspan x="52.30 78.80 99.15">−15</tspan></text>
<text y="1654.2" font-size="32"><tspan x="52.30 78.80 99.15">−20</tspan></text>
<text transform="translate(29,1281) rotate(-90)" y="0" font-size="38.4"><tspan x="-191.98 -170.57 -140.99 -114.07 -101.43 -77.64 -54.95 -33.50 -19.76 -6.89 6.60 30.91 54.68 76.13 89.88 103.97 120.17 146.44 175.78">LDA dec. func. [AU]</tspan></text>
<text y="835" font-size="32"><tspan font-weight="bold" x="132.38 148.22 172.92">(C)</tspan><tspan x="189.46 200.18 222.44 241.75 261.88 280.84 305.75 318.97 338.39 365.11 375.64 395.58 415.03 427.42 447.38 457.91 478.30 491.62 512.18 521.83 540.74 557.91 570.18 589.37 610.04 620.76 646.87 655.74 668.30 689.11 699.64 719.58 739.00 758.49 769.21 790.10 800.82 818.66 843.32 865.75 876.46 907.53 926.84 946.66 965.98"> CopyDraw data projected with day 3 LDA model</tspan></text>
<rect x="142.3" y="881.8" width="243" height="156.3" fill="#f4f4f4" fill-opacity="0.85"/>
<rect x="164.7" y="903.2" width="19.2" height="19.2" fill="#0868ac" fill-opacity="0.5" stroke="#0868ac" stroke-width="3"/>
<text y="925.6" font-size="32"><tspan x="206.00 222.70 235.22 244.03 275.73 286.45 311.63 330.03">stim OFF</tspan></text>
<rect x="164.7" y="949.9" width="19.2" height="19.2" fill="#ad0729" fill-opacity="0.5" stroke="#ad0729" stroke-width="3"/>
<text y="972.3" font-size="32"><tspan x="206.00 222.70 235.22 244.03 275.73 286.45 311.63">stim ON</tspan></text>
<rect x="164.7" y="996.6" width="19.2" height="19.2" fill="#80cdc1" fill-opacity="0.5" stroke="#80cdc1" stroke-width="3"/>
<text y="1019.0" font-size="32"><tspan x="206.00 222.70 235.22 244.03 275.73 286.26 305.70 330.35 353.09">stim aDBS</tspan></text>
<path d="M245.3,1519.0V1541.4M472.9,1519.0V1541.4" stroke="#444" stroke-width="2.6" fill="none"/>
<path d="M245.3,1530.2H472.9" stroke="#444" stroke-width="3.2" stroke-dasharray="4.8,4.8" fill="none"/>
<text y="1516.6" font-size="32"><tspan x="224.20 244.56 263.28 275.02 288.33 308.14 334.64 355.72 366.64 386.99 407.04">** (p=2.94e</tspan><tspan x="426.99" textLength="13.37" lengthAdjust="spacingAndGlyphs">-</tspan><tspan x="440.94 461.29 482.67">16)</tspan></text>
<path d="M700.6,1548.6V1571.0M928.6,1548.6V1571.0" stroke="#444" stroke-width="2.6" fill="none"/>
<path d="M700.6,1559.8H928.6" stroke="#444" stroke-width="3.2" stroke-dasharray="4.8,4.8" fill="none"/>
<text y="1546.2" font-size="32"><tspan x="679.70 700.06 718.78 730.52 743.83 763.64 790.14 811.22 822.14 842.49 862.54">** (p=6.42e</tspan><tspan x="882.49" textLength="13.37" lengthAdjust="spacingAndGlyphs">-</tspan><tspan x="896.44 916.79 938.17">16)</tspan></text>
<path d="M1155.6,1497.7V1520.1000000000001M1383.7,1497.7V1520.1000000000001" stroke="#444" stroke-width="2.6" fill="none"/>
<path d="M1155.6,1508.9H1383.7" stroke="#444" stroke-width="3.2" stroke-dasharray="4.8,4.8" fill="none"/>
<text y="1496.2" font-size="32"><tspan x="1134.75 1155.11 1173.83 1185.57 1198.88 1218.69 1245.19 1266.27 1277.19 1297.54 1317.59">** (p=1.72e</tspan><tspan x="1337.54" textLength="13.37" lengthAdjust="spacingAndGlyphs">-</tspan><tspan x="1351.49 1371.84 1393.22">06)</tspan></text>
<path d="M1383.7,1566.6V1589.0M1611.3,1566.6V1589.0" stroke="#444" stroke-width="2.6" fill="none"/>
<path d="M1383.7,1577.8H1611.3" stroke="#444" stroke-width="3.2" stroke-dasharray="4.8,4.8" fill="none"/>
<text y="1565" font-size="32"><tspan x="1362.60 1382.96 1401.68 1413.42 1426.73 1446.54 1473.04 1494.12 1505.04 1525.39 1545.44">** (p=2.70e</tspan><tspan x="1565.39" textLength="13.37" lengthAdjust="spacingAndGlyphs">-</tspan><tspan x="1579.34 1599.69 1621.07">09)</tspan></text>
<path d="M1155.6,1638.2V1660.6000000000001M1611.3,1638.2V1660.6000000000001" stroke="#444" stroke-width="2.6" fill="none"/>
<path d="M1155.6,1649.4H1611.3" stroke="#444" stroke-width="3.2" stroke-dasharray="4.8,4.8" fill="none"/>
<text y="1636.4" font-size="32"><tspan x="1364.97 1385.24">ns</tspan></text>
<text transform="translate(256.2,1737.5) rotate(-45)" y="0" font-size="32"><tspan x="-172.26 -152.32 -132.90">day</tspan><tspan x="-113.14" textLength="18.72" lengthAdjust="spacingAndGlyphs">_</tspan><tspan x="-93.60 -72.70 -61.98 -36.80 -18.40">2 OFF</tspan></text>
<text transform="translate(256.2,1737.5) rotate(-45)" y="43" font-size="32"><tspan x="-118.85 -105.34 -81.73 -55.23 -34.88 -13.50">(N=69)</tspan></text>
<text transform="translate(484.0,1737.5) rotate(-45)" y="0" font-size="32"><tspan x="-159.39 -139.46 -120.03">day</tspan><tspan x="-100.27" textLength="18.72" lengthAdjust="spacingAndGlyphs">_</tspan><tspan x="-80.74 -59.84 -49.12 -23.94">2 ON</tspan></text>
<text transform="translate(484.0,1737.5) rotate(-45)" y="43" font-size="32"><tspan x="-118.85 -105.34 -81.73 -55.23 -34.88 -13.50">(N=69)</tspan></text>
<text transform="translate(711.9,1737.5) rotate(-45)" y="0" font-size="32"><tspan x="-172.26 -152.32 -132.90">day</tspan><tspan x="-113.14" textLength="18.72" lengthAdjust="spacingAndGlyphs">_</tspan><tspan x="-93.60 -72.70 -61.98 -36.80 -18.40">3 OFF</tspan></text>
<text transform="translate(711.9,1737.5) rotate(-45)" y="43" font-size="32"><tspan x="-118.85 -105.34 -81.73 -55.23 -34.88 -13.50">(N=43)</tspan></text>
<text transform="translate(939.8,1737.5) rotate(-45)" y="0" font-size="32"><tspan x="-159.39 -139.46 -120.03">day</tspan><tspan x="-100.27" textLength="18.72" lengthAdjust="spacingAndGlyphs">_</tspan><tspan x="-80.74 -59.84 -49.12 -23.94">3 ON</tspan></text>
<text transform="translate(939.8,1737.5) rotate(-45)" y="43" font-size="32"><tspan x="-118.85 -105.34 -81.73 -55.23 -34.88 -13.50">(N=70)</tspan></text>
<text transform="translate(1167.6,1737.5) rotate(-45)" y="0" font-size="32"><tspan x="-172.26 -152.32 -132.90">day</tspan><tspan x="-113.14" textLength="18.72" lengthAdjust="spacingAndGlyphs">_</tspan><tspan x="-93.60 -72.70 -61.98 -36.80 -18.40">4 OFF</tspan></text>
<text transform="translate(1167.6,1737.5) rotate(-45)" y="43" font-size="32"><tspan x="-118.85 -105.34 -81.73 -55.23 -34.88 -13.50">(N=15)</tspan></text>
<text transform="translate(1395.5,1737.5) rotate(-45)" y="0" font-size="32"><tspan x="-159.39 -139.46 -120.03">day</tspan><tspan x="-100.27" textLength="18.72" lengthAdjust="spacingAndGlyphs">_</tspan><tspan x="-80.74 -59.84 -49.12 -23.94">4 ON</tspan></text>
<text transform="translate(1395.5,1737.5) rotate(-45)" y="43" font-size="32"><tspan x="-118.85 -105.34 -81.73 -55.23 -34.88 -13.50">(N=34)</tspan></text>
<text transform="translate(1623.3,1737.5) rotate(-45)" y="0" font-size="32"><tspan x="-198.02 -178.08 -158.66">day</tspan><tspan x="-138.90" textLength="18.72" lengthAdjust="spacingAndGlyphs">_</tspan><tspan x="-119.36 -98.46 -87.94 -68.50 -43.84 -21.10">4 aDBS</tspan></text>
<text transform="translate(1623.3,1737.5) rotate(-45)" y="43" font-size="32"><tspan x="-118.85 -105.34 -81.73 -55.23 -34.88 -13.50">(N=70)</tspan></text>
</svg>
</body></html>
